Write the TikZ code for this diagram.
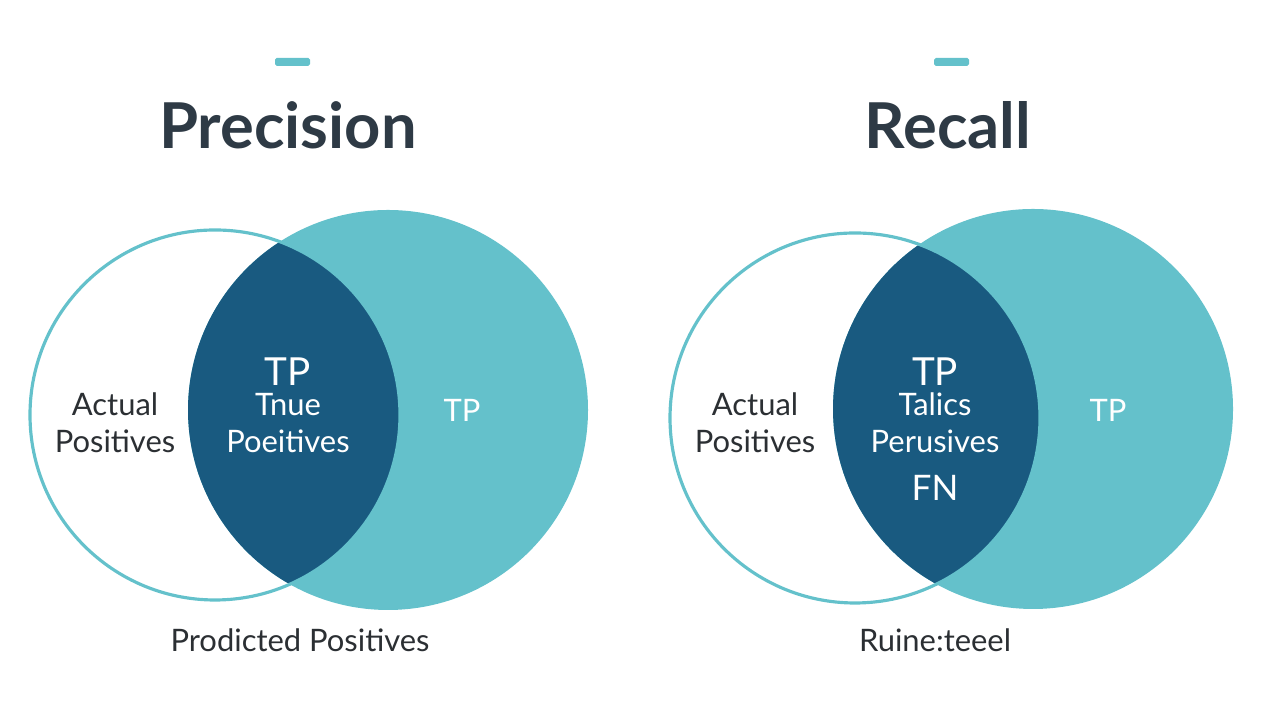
\documentclass[tikz,border=0pt]{standalone}
\usepackage{fontspec}
\setmainfont{Lato}
\definecolor{tealfill}{HTML}{64C1CB}
\definecolor{deepblue}{HTML}{195A80}
\definecolor{titlegray}{HTML}{2E3A45}
\definecolor{labelgray}{HTML}{2B2F33}
\tikzset{
  title/.style={font=\fontsize{18}{20}\selectfont\bfseries, text=titlegray},
  lbl/.style={font=\fontsize{8.8}{10.5}\selectfont, text=labelgray, align=center, inner sep=0pt},
  wlbl/.style={lbl, text=white},
  tickmark/.style={fill=tealfill, rounded corners=0.5pt},
}
\begin{document}
\begin{tikzpicture}
\useasboundingbox (0,0) rectangle (12.8,7.2);
% left pair
\coordinate (actL) at (2.15,3.05);
\coordinate (predL) at (3.88,3.10);
\fill [tealfill] (predL) circle (2.0);
\begin{scope}
\clip (predL) circle (2.0);
\fill [deepblue] (actL) circle (1.85);
\end{scope}
\draw [tealfill, line width=0.9pt] (actL) circle (1.85);
% right pair
\coordinate (actR) at (8.55,3.02);
\coordinate (predR) at (10.33,3.11);
\fill [tealfill] (predR) circle (2.0);
\begin{scope}
\clip (predR) circle (2.0);
\fill [deepblue] (actR) circle (1.85);
\end{scope}
\draw [tealfill, line width=0.9pt] (actR) circle (1.85);
% titles
\fill [tickmark] (2.75,6.54) rectangle (3.10,6.62);
\fill [tickmark] (9.34,6.54) rectangle (9.69,6.62);
\node [title] (precision) at (2.88,5.95) {Precision};
\node [title] (recall) at (9.48,5.95) {Recall};
% labels
\node [lbl] (actualL) at (1.15,2.97) {Actual\\Positives};
\node [wlbl, font=\fontsize{11}{12}\selectfont] (tpL) at (2.88,3.48) {TP};
\node [wlbl] (trueL) at (2.88,2.97) {Tnue\\Poeitives};
\node [wlbl] (tpL2) at (4.62,3.10) {TP};
\node [lbl] (predictedL) at (3.00,0.80) {Prodicted Positives};
\node [lbl] (actualR) at (7.55,2.97) {Actual\\Positives};
\node [wlbl, font=\fontsize{11}{12}\selectfont] (tpR) at (9.35,3.48) {TP};
\node [wlbl] (trueR) at (9.35,2.97) {Talics\\Perusives};
\node [wlbl, font=\fontsize{10}{12}\selectfont] (fnR) at (9.35,2.32) {FN};
\node [wlbl] (tpR2) at (11.08,3.10) {TP};
\node [lbl] (recallR) at (9.35,0.80) {Ruine:teeel};
\end{tikzpicture}
\end{document}
